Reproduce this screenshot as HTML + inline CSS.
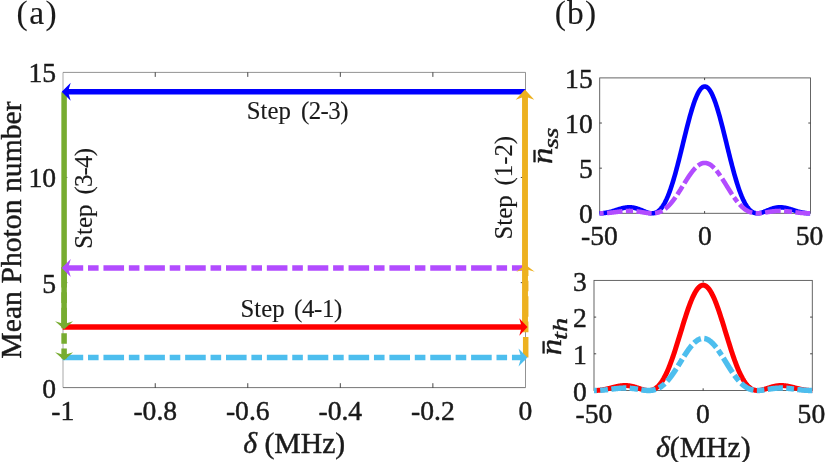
<!DOCTYPE html>
<html><head><meta charset="utf-8"><title>Figure</title>
<style>html,body{margin:0;padding:0;background:#fff}body{width:825px;height:462px;overflow:hidden}</style>
</head><body>
<svg width="825" height="462" viewBox="0 0 825 462" style="display:block">
<rect width="825" height="462" fill="#fff"/>
<path d="M63.00 72.40V387.60" stroke="#a8a8a8" stroke-width="1.0" fill="none"/>
<path d="M525.50 72.40V387.60" stroke="#777" stroke-width="0.8" fill="none"/>
<path d="M63.00 72.40H525.50" stroke="#777" stroke-width="0.8" fill="none"/>
<path d="M63.00 387.60H525.50" stroke="#666" stroke-width="0.9" fill="none"/>
<path d="M155.24 387.80v-4.6M155.24 72.30v4.6M247.78 387.80v-4.6M247.78 72.30v4.6M340.32 387.80v-4.6M340.32 72.30v4.6M432.86 387.80v-4.6M432.86 72.30v4.6M62.70 282.63h4.6M525.40 282.63h-4.6M62.70 177.47h4.6M525.40 177.47h-4.6" fill="none" stroke="#333" stroke-width="0.9"/>
<path d="M62.60 268.10H525.40" stroke="#b24cff" stroke-width="5.5" stroke-dasharray="20.6 4.8 10.6 4.85" fill="none"/>
<path d="M62.60 357.60H525.40" stroke="#4dbeee" stroke-width="5.5" stroke-dasharray="20.6 4.8 10.6 4.85" fill="none"/>
<path d="M64.10 266.90V358.60" stroke="#77ac30" stroke-width="5.5" stroke-dasharray="20.6 4.8 10.6 4.85" fill="none"/>
<path d="M525.70 357.60V268.10" stroke="#edb120" stroke-width="5.5" stroke-dasharray="20.6 4.8 10.6 4.85" fill="none"/>
<path d="M525.40 91.70H65.70" stroke="#0000ff" stroke-width="5.5" fill="none"/>
<path d="M62.70 327.00H523.40" stroke="#ff0000" stroke-width="5.5" fill="none"/>
<path d="M64.10 92.20V327.00" stroke="#77ac30" stroke-width="5.5" fill="none"/>
<path d="M525.00 329.50V95.70" stroke="#edb120" stroke-width="5.9" fill="none"/>
<polygon points="61.80,268.10 70.80,259.10 68.10,268.10 70.80,277.10" fill="#b24cff"/>
<polygon points="527.40,357.60 518.50,366.60 521.20,357.60 518.50,348.60" fill="#4dbeee"/>
<polygon points="64.10,360.20 55.10,352.20 64.10,355.00 73.10,352.20" fill="#77ac30"/>
<polygon points="525.50,264.70 534.70,271.70 525.50,268.90 516.30,271.70" fill="#edb120"/>
<polygon points="61.70,91.70 70.70,82.70 68.00,91.70 70.70,100.70" fill="#0000ff"/>
<polygon points="527.50,327.00 519.30,335.80 521.70,327.00 519.30,318.20" fill="#ff0000"/>
<polygon points="64.10,329.30 55.10,321.30 64.10,324.10 73.10,321.30" fill="#77ac30"/>
<polygon points="524.95,89.50 534.25,99.70 524.95,96.50 515.65,99.70" fill="#edb120"/>
<rect x="599.70" y="77.90" width="210.80" height="135.40" fill="none" stroke="#555" stroke-width="0.9"/>
<path d="M704.60 213.30v-2.2M704.60 77.90v2.2M599.70 168.17h2.2M810.50 168.17h-2.2M599.70 123.03h2.2M810.50 123.03h-2.2" fill="none" stroke="#333" stroke-width="0.9"/>
<path d="M599.40 213.30 L599.93 213.30 L600.45 213.29 L600.98 213.27 L601.51 213.25 L602.03 213.22 L602.56 213.18 L603.09 213.14 L603.61 213.08 L604.14 213.03 L604.67 212.96 L605.19 212.89 L605.72 212.81 L606.25 212.72 L606.77 212.63 L607.30 212.53 L607.83 212.42 L608.35 212.31 L608.88 212.19 L609.41 212.06 L609.94 211.93 L610.46 211.79 L610.99 211.65 L611.52 211.51 L612.04 211.36 L612.57 211.20 L613.10 211.04 L613.62 210.88 L614.15 210.72 L614.68 210.56 L615.20 210.39 L615.73 210.22 L616.26 210.05 L616.78 209.89 L617.31 209.72 L617.84 209.55 L618.36 209.39 L618.89 209.23 L619.42 209.07 L619.94 208.91 L620.47 208.76 L621.00 208.61 L621.52 208.47 L622.05 208.33 L622.58 208.21 L623.10 208.08 L623.63 207.97 L624.16 207.86 L624.68 207.76 L625.21 207.67 L625.74 207.59 L626.26 207.52 L626.79 207.46 L627.32 207.41 L627.84 207.37 L628.37 207.34 L628.90 207.32 L629.42 207.32 L629.95 207.32 L630.48 207.34 L631.01 207.37 L631.53 207.41 L632.06 207.47 L632.59 207.53 L633.11 207.61 L633.64 207.70 L634.17 207.80 L634.69 207.92 L635.22 208.04 L635.75 208.18 L636.27 208.32 L636.80 208.48 L637.33 208.64 L637.85 208.82 L638.38 209.00 L638.91 209.19 L639.43 209.38 L639.96 209.59 L640.49 209.79 L641.01 210.00 L641.54 210.22 L642.07 210.43 L642.59 210.65 L643.12 210.87 L643.65 211.08 L644.17 211.30 L644.70 211.51 L645.23 211.71 L645.75 211.91 L646.28 212.10 L646.81 212.29 L647.33 212.46 L647.86 212.62 L648.39 212.77 L648.91 212.90 L649.44 213.01 L649.97 213.11 L650.49 213.19 L651.02 213.25 L651.55 213.29 L652.08 213.30 L652.60 213.29 L653.13 213.25 L653.66 213.18 L654.18 213.08 L654.71 212.95 L655.24 212.79 L655.76 212.59 L656.29 212.36 L656.82 212.09 L657.34 211.79 L657.87 211.44 L658.40 211.05 L658.92 210.62 L659.45 210.15 L659.98 209.63 L660.50 209.07 L661.03 208.47 L661.56 207.81 L662.08 207.11 L662.61 206.36 L663.14 205.57 L663.66 204.72 L664.19 203.82 L664.72 202.87 L665.24 201.88 L665.77 200.83 L666.30 199.73 L666.82 198.58 L667.35 197.38 L667.88 196.14 L668.40 194.84 L668.93 193.49 L669.46 192.09 L669.98 190.65 L670.51 189.15 L671.04 187.62 L671.56 186.03 L672.09 184.40 L672.62 182.73 L673.15 181.01 L673.67 179.26 L674.20 177.46 L674.73 175.63 L675.25 173.76 L675.78 171.86 L676.31 169.92 L676.83 167.96 L677.36 165.97 L677.89 163.94 L678.41 161.90 L678.94 159.83 L679.47 157.75 L679.99 155.64 L680.52 153.53 L681.05 151.40 L681.57 149.26 L682.10 147.11 L682.63 144.96 L683.15 142.81 L683.68 140.66 L684.21 138.51 L684.73 136.37 L685.26 134.24 L685.79 132.12 L686.31 130.02 L686.84 127.94 L687.37 125.88 L687.89 123.84 L688.42 121.83 L688.95 119.85 L689.47 117.90 L690.00 115.99 L690.53 114.12 L691.05 112.29 L691.58 110.50 L692.11 108.76 L692.63 107.07 L693.16 105.43 L693.69 103.84 L694.22 102.31 L694.74 100.84 L695.27 99.43 L695.80 98.08 L696.32 96.80 L696.85 95.59 L697.38 94.45 L697.90 93.37 L698.43 92.37 L698.96 91.44 L699.48 90.59 L700.01 89.82 L700.54 89.12 L701.06 88.51 L701.59 87.97 L702.12 87.51 L702.64 87.14 L703.17 86.85 L703.70 86.64 L704.22 86.52 L704.75 86.48 L705.28 86.52 L705.80 86.64 L706.33 86.85 L706.86 87.14 L707.38 87.51 L707.91 87.97 L708.44 88.51 L708.96 89.12 L709.49 89.82 L710.02 90.59 L710.54 91.44 L711.07 92.37 L711.60 93.37 L712.12 94.45 L712.65 95.59 L713.18 96.80 L713.70 98.08 L714.23 99.43 L714.76 100.84 L715.29 102.31 L715.81 103.84 L716.34 105.43 L716.87 107.07 L717.39 108.76 L717.92 110.50 L718.45 112.29 L718.97 114.12 L719.50 115.99 L720.03 117.90 L720.55 119.85 L721.08 121.83 L721.61 123.84 L722.13 125.88 L722.66 127.94 L723.19 130.02 L723.71 132.12 L724.24 134.24 L724.77 136.37 L725.29 138.51 L725.82 140.66 L726.35 142.81 L726.87 144.96 L727.40 147.11 L727.93 149.26 L728.45 151.40 L728.98 153.53 L729.51 155.64 L730.03 157.75 L730.56 159.83 L731.09 161.90 L731.61 163.94 L732.14 165.97 L732.67 167.96 L733.19 169.92 L733.72 171.86 L734.25 173.76 L734.77 175.63 L735.30 177.46 L735.83 179.26 L736.36 181.01 L736.88 182.73 L737.41 184.40 L737.94 186.03 L738.46 187.62 L738.99 189.15 L739.52 190.65 L740.04 192.09 L740.57 193.49 L741.10 194.84 L741.62 196.14 L742.15 197.38 L742.68 198.58 L743.20 199.73 L743.73 200.83 L744.26 201.88 L744.78 202.87 L745.31 203.82 L745.84 204.72 L746.36 205.57 L746.89 206.36 L747.42 207.11 L747.94 207.81 L748.47 208.47 L749.00 209.07 L749.52 209.63 L750.05 210.15 L750.58 210.62 L751.10 211.05 L751.63 211.44 L752.16 211.79 L752.68 212.09 L753.21 212.36 L753.74 212.59 L754.26 212.79 L754.79 212.95 L755.32 213.08 L755.84 213.18 L756.37 213.25 L756.90 213.29 L757.43 213.30 L757.95 213.29 L758.48 213.25 L759.01 213.19 L759.53 213.11 L760.06 213.01 L760.59 212.90 L761.11 212.77 L761.64 212.62 L762.17 212.46 L762.69 212.29 L763.22 212.10 L763.75 211.91 L764.27 211.71 L764.80 211.51 L765.33 211.30 L765.85 211.08 L766.38 210.87 L766.91 210.65 L767.43 210.43 L767.96 210.22 L768.49 210.00 L769.01 209.79 L769.54 209.59 L770.07 209.38 L770.59 209.19 L771.12 209.00 L771.65 208.82 L772.17 208.64 L772.70 208.48 L773.23 208.32 L773.75 208.18 L774.28 208.04 L774.81 207.92 L775.33 207.80 L775.86 207.70 L776.39 207.61 L776.91 207.53 L777.44 207.47 L777.97 207.41 L778.50 207.37 L779.02 207.34 L779.55 207.32 L780.08 207.32 L780.60 207.32 L781.13 207.34 L781.66 207.37 L782.18 207.41 L782.71 207.46 L783.24 207.52 L783.76 207.59 L784.29 207.67 L784.82 207.76 L785.34 207.86 L785.87 207.97 L786.40 208.08 L786.92 208.21 L787.45 208.33 L787.98 208.47 L788.50 208.61 L789.03 208.76 L789.56 208.91 L790.08 209.07 L790.61 209.23 L791.14 209.39 L791.66 209.55 L792.19 209.72 L792.72 209.89 L793.24 210.05 L793.77 210.22 L794.30 210.39 L794.82 210.56 L795.35 210.72 L795.88 210.88 L796.40 211.04 L796.93 211.20 L797.46 211.36 L797.98 211.51 L798.51 211.65 L799.04 211.79 L799.57 211.93 L800.09 212.06 L800.62 212.19 L801.15 212.31 L801.67 212.42 L802.20 212.53 L802.73 212.63 L803.25 212.72 L803.78 212.81 L804.31 212.89 L804.83 212.96 L805.36 213.03 L805.89 213.08 L806.41 213.14 L806.94 213.18 L807.47 213.22 L807.99 213.25 L808.52 213.27 L809.05 213.29 L809.57 213.30 L810.10 213.30" stroke="#0000ff" stroke-width="4.6" fill="none" stroke-linejoin="round"/>
<path d="M599.70 213.30 L600.10 213.30 L600.49 213.29 L600.89 213.29 L601.28 213.28 L601.68 213.28 L602.07 213.27 L602.47 213.26 L602.86 213.24 L603.26 213.23 L603.65 213.21 M607.05 213.01 L607.44 212.98 L607.84 212.95 L608.24 212.92 L608.63 212.88 L609.03 212.84 L609.42 212.81 L609.82 212.77 L610.21 212.73 L610.61 212.69 L611.01 212.64 L611.40 212.60 L611.80 212.56 L612.19 212.51 L612.59 212.46 L612.98 212.42 L613.38 212.37 L613.77 212.32 L614.16 212.27 L614.56 212.22 L614.95 212.18 L615.35 212.13 L615.74 212.08 L616.14 212.03 L616.53 211.98 L616.93 211.93 L617.32 211.88 L617.72 211.83 L618.11 211.78 L618.50 211.73 L618.90 211.68 L619.29 211.63 L619.69 211.59 L620.08 211.54 L620.48 211.50 L620.87 211.45 L621.27 211.41 L621.67 211.37 L622.06 211.33 L622.46 211.29 M625.85 211.03 L626.25 211.00 L626.65 210.99 L627.06 210.97 L627.46 210.95 L627.86 210.94 L628.27 210.93 L628.67 210.93 L629.07 210.92 L629.48 210.92 L629.88 210.92 L630.28 210.93 L630.69 210.94 L631.09 210.95 L631.49 210.96 L631.90 210.98 L632.30 210.99 L632.70 211.02 L633.11 211.04 M636.49 211.35 L636.89 211.40 L637.29 211.45 L637.69 211.50 L638.09 211.55 L638.49 211.61 L638.89 211.66 L639.28 211.72 L639.68 211.78 L640.08 211.84 L640.48 211.91 L640.87 211.97 L641.27 212.03 L641.67 212.10 L642.07 212.16 L642.46 212.23 L642.86 212.29 L643.26 212.36 L643.66 212.42 L644.05 212.49 L644.45 212.55 L644.85 212.61 L645.25 212.67 L645.64 212.73 L646.04 212.79 L646.44 212.85 L646.84 212.90 L647.24 212.95 L647.64 213.00 L648.04 213.05 L648.44 213.09 L648.84 213.13 L649.24 213.17 L649.64 213.20 L650.04 213.23 L650.44 213.25 L650.85 213.27 L651.25 213.29 L651.65 213.30 M655.04 213.12 L655.44 213.07 L655.84 213.01 L656.24 212.94 L656.64 212.86 L657.04 212.77 L657.43 212.68 L657.82 212.57 L658.21 212.46 L658.60 212.34 L658.98 212.22 L659.36 212.08 L659.74 211.94 L660.12 211.79 L660.49 211.63 L660.86 211.46 L661.22 211.29 L661.59 211.11 L661.95 210.92 L662.30 210.72 M665.13 208.85 L665.45 208.60 L665.76 208.35 L666.07 208.10 L666.38 207.84 L666.68 207.58 L666.98 207.32 L667.28 207.05 L667.57 206.78 L667.86 206.50 L668.15 206.22 L668.43 205.94 L668.71 205.66 L668.99 205.37 L669.27 205.08 L669.54 204.79 L669.81 204.49 L670.08 204.20 L670.35 203.90 L670.61 203.60 L670.87 203.29 L671.13 202.99 L671.39 202.68 L671.64 202.38 L671.90 202.07 L672.15 201.75 L672.40 201.44 L672.64 201.13 L672.89 200.81 L673.13 200.49 L673.37 200.18 L673.61 199.86 L673.85 199.54 L674.09 199.21 L674.33 198.89 L674.56 198.57 L674.80 198.24 L675.03 197.92 L675.26 197.59 L675.49 197.26 M677.39 194.45 L677.62 194.11 L677.84 193.77 L678.06 193.44 L678.28 193.10 L678.49 192.76 L678.71 192.42 L678.93 192.08 L679.15 191.74 L679.36 191.40 L679.58 191.06 L679.79 190.72 L680.01 190.38 L680.22 190.04 L680.44 189.70 L680.65 189.35 L680.86 189.01 L681.07 188.67 L681.29 188.33 L681.50 187.98 L681.71 187.64 L681.92 187.30 L682.13 186.96 L682.35 186.61 L682.56 186.27 M684.34 183.38 L684.55 183.04 L684.77 182.70 L684.98 182.36 L685.19 182.02 L685.40 181.68 L685.61 181.34 L685.82 181.00 L686.04 180.66 L686.25 180.32 L686.47 179.99 L686.68 179.65 L686.90 179.31 L687.11 178.98 L687.33 178.64 L687.55 178.30 L687.76 177.97 L687.98 177.63 L688.20 177.30 L688.42 176.97 L688.65 176.63 L688.87 176.30 L689.09 175.97 L689.32 175.64 L689.55 175.31 L689.77 174.98 L690.00 174.65 L690.23 174.33 L690.46 174.00 L690.70 173.68 L690.93 173.35 L691.17 173.03 L691.41 172.71 L691.65 172.39 L691.89 172.07 L692.13 171.75 L692.38 171.44 L692.62 171.12 L692.87 170.81 L693.13 170.50 L693.38 170.19 L693.64 169.89 L693.90 169.58 L694.16 169.28 L694.43 168.98 L694.70 168.69 L694.97 168.39 L695.24 168.10 L695.52 167.82 M698.06 165.55 L698.38 165.31 L698.70 165.08 L699.03 164.85 L699.37 164.64 L699.71 164.43 L700.06 164.23 L700.42 164.04 L700.78 163.87 L701.14 163.70 L701.51 163.55 L701.89 163.42 L702.27 163.30 L702.66 163.19 L703.05 163.10 L703.45 163.03 L703.84 162.98 L704.24 162.95 L704.64 162.93 L705.04 162.94 L705.44 162.96 L705.84 163.00 L706.24 163.06 L706.63 163.14 L707.02 163.24 L707.40 163.35 L707.78 163.48 L708.16 163.62 L708.53 163.78 L708.89 163.95 L709.25 164.13 L709.60 164.32 L709.95 164.52 L710.29 164.74 L710.62 164.96 L710.95 165.19 L711.27 165.42 L711.59 165.67 L711.91 165.92 L712.21 166.17 L712.52 166.43 L712.82 166.70 L713.11 166.97 L713.40 167.25 L713.69 167.53 L713.97 167.81 L714.25 168.10 M716.50 170.65 L716.75 170.96 L717.00 171.28 L717.25 171.59 L717.49 171.91 L717.73 172.23 L717.98 172.55 L718.22 172.87 L718.45 173.19 L718.69 173.52 L718.92 173.84 L719.16 174.17 L719.39 174.50 L719.62 174.83 L719.85 175.16 L720.08 175.49 L720.30 175.82 M722.18 178.65 L722.40 178.99 L722.61 179.32 L722.83 179.66 L723.04 180.00 L723.25 180.33 L723.47 180.67 L723.68 181.01 L723.89 181.35 L724.10 181.68 L724.31 182.02 L724.53 182.36 L724.74 182.70 L724.95 183.04 L725.16 183.38 L725.37 183.72 L725.58 184.05 L725.79 184.39 L726.00 184.73 L726.20 185.07 L726.41 185.41 L726.62 185.75 L726.83 186.09 L727.04 186.43 L727.25 186.77 L727.46 187.11 L727.67 187.45 L727.88 187.79 L728.09 188.13 L728.30 188.47 L728.51 188.81 L728.72 189.14 L728.93 189.48 L729.14 189.82 L729.35 190.16 L729.57 190.50 L729.78 190.83 L729.99 191.17 L730.21 191.51 L730.42 191.84 L730.63 192.18 L730.85 192.52 L731.07 192.85 L731.28 193.19 L731.50 193.52 L731.72 193.85 L731.94 194.19 L732.15 194.52 M734.06 197.33 L734.29 197.66 L734.53 197.99 L734.76 198.32 L734.99 198.64 L735.23 198.97 L735.46 199.29 L735.70 199.61 L735.94 199.93 L736.18 200.25 L736.43 200.57 L736.67 200.89 L736.92 201.21 L737.17 201.52 L737.42 201.83 M739.62 204.42 L739.89 204.72 L740.17 205.01 L740.45 205.31 L740.73 205.60 L741.01 205.88 L741.30 206.17 L741.59 206.45 L741.88 206.73 L742.17 207.00 L742.47 207.27 L742.77 207.54 L743.08 207.81 L743.39 208.07 L743.70 208.32 L744.01 208.57 L744.33 208.82 L744.65 209.06 L744.98 209.30 L745.31 209.54 L745.64 209.76 L745.98 209.98 L746.32 210.20 L746.66 210.41 L747.01 210.62 L747.36 210.81 L747.72 211.00 L748.08 211.19 L748.44 211.37 L748.81 211.54 L749.17 211.70 L749.55 211.85 L749.92 212.00 L750.30 212.14 L750.68 212.27 L751.07 212.40 L751.45 212.51 L751.84 212.62 L752.23 212.72 M755.59 213.23 L756.00 213.26 L756.41 213.28 L756.83 213.29 L757.24 213.30 L757.65 213.30 L758.06 213.29 L758.48 213.28 L758.89 213.26 L759.30 213.24 L759.71 213.21 L760.12 213.18 L760.53 213.15 L760.94 213.11 L761.35 213.06 L761.76 213.01 M765.13 212.54 L765.53 212.47 L765.92 212.41 L766.32 212.34 L766.72 212.28 L767.11 212.21 L767.51 212.15 L767.91 212.08 L768.30 212.02 L768.70 211.96 L769.10 211.89 L769.50 211.83 L769.89 211.77 L770.29 211.71 L770.69 211.65 L771.09 211.60 L771.48 211.54 L771.88 211.49 L772.28 211.44 L772.68 211.39 L773.08 211.34 L773.48 211.30 L773.88 211.25 L774.28 211.21 L774.68 211.17 L775.08 211.14 L775.48 211.11 L775.88 211.08 L776.28 211.05 L776.68 211.02 L777.08 211.00 L777.49 210.98 L777.89 210.96 L778.29 210.95 L778.69 210.94 L779.09 210.93 L779.49 210.93 L779.90 210.92 L780.30 210.92 L780.70 210.93 M784.10 211.05 L784.49 211.08 L784.89 211.10 L785.28 211.13 L785.68 211.17 L786.07 211.20 L786.46 211.23 L786.86 211.27 L787.25 211.31 L787.64 211.35 L788.04 211.39 L788.43 211.43 L788.82 211.47 L789.22 211.52 L789.61 211.56 L790.00 211.61 L790.39 211.66 L790.79 211.70 L791.18 211.75 L791.57 211.80 L791.96 211.85 M795.34 212.27 L795.73 212.32 L796.13 212.37 L796.53 212.42 L796.93 212.47 L797.32 212.51 L797.72 212.56 L798.12 212.60 L798.52 212.65 L798.92 212.69 L799.31 212.73 L799.71 212.77 L800.11 212.81 L800.51 212.85 L800.91 212.88 L801.31 212.92 L801.70 212.95 L802.10 212.99 L802.50 213.02 L802.90 213.05 L803.30 213.07 L803.70 213.10 L804.10 213.12 L804.50 213.15 L804.90 213.17 L805.30 213.19 L805.70 213.21 L806.10 213.22 L806.50 213.24 L806.90 213.25 L807.30 213.26 L807.70 213.27 L808.10 213.28 L808.50 213.29 L808.90 213.29 L809.30 213.30 L809.70 213.30 L810.10 213.30" stroke="#b24cff" stroke-width="4.6" fill="none" stroke-linejoin="round"/>
<rect x="594.00" y="280.40" width="218.30" height="110.10" fill="none" stroke="#555" stroke-width="0.9"/>
<path d="M703.15 390.50v-2.2M703.15 280.40v2.2M594.00 353.80h2.2M812.30 353.80h-2.2M594.00 317.10h2.2M812.30 317.10h-2.2" fill="none" stroke="#333" stroke-width="0.9"/>
<path d="M594.00 390.50 L594.55 390.50 L595.09 390.49 L595.64 390.48 L596.18 390.46 L596.73 390.43 L597.27 390.40 L597.82 390.36 L598.37 390.32 L598.91 390.27 L599.46 390.22 L600.00 390.16 L600.55 390.09 L601.09 390.02 L601.64 389.94 L602.19 389.86 L602.73 389.77 L603.28 389.67 L603.82 389.57 L604.37 389.47 L604.91 389.36 L605.46 389.25 L606.01 389.13 L606.55 389.01 L607.10 388.89 L607.64 388.76 L608.19 388.63 L608.74 388.49 L609.28 388.36 L609.83 388.22 L610.37 388.08 L610.92 387.94 L611.46 387.80 L612.01 387.66 L612.56 387.53 L613.10 387.39 L613.65 387.25 L614.19 387.12 L614.74 386.98 L615.28 386.86 L615.83 386.73 L616.38 386.61 L616.92 386.49 L617.47 386.38 L618.01 386.27 L618.56 386.17 L619.10 386.07 L619.65 385.98 L620.20 385.90 L620.74 385.82 L621.29 385.76 L621.83 385.70 L622.38 385.65 L622.92 385.61 L623.47 385.57 L624.02 385.55 L624.56 385.53 L625.11 385.53 L625.65 385.53 L626.20 385.55 L626.75 385.58 L627.29 385.61 L627.84 385.66 L628.38 385.71 L628.93 385.78 L629.47 385.85 L630.02 385.94 L630.57 386.03 L631.11 386.13 L631.66 386.25 L632.20 386.37 L632.75 386.50 L633.29 386.63 L633.84 386.78 L634.39 386.93 L634.93 387.08 L635.48 387.25 L636.02 387.42 L636.57 387.59 L637.11 387.76 L637.66 387.94 L638.21 388.12 L638.75 388.30 L639.30 388.48 L639.84 388.66 L640.39 388.84 L640.93 389.01 L641.48 389.18 L642.03 389.35 L642.57 389.51 L643.12 389.66 L643.66 389.80 L644.21 389.93 L644.75 390.06 L645.30 390.17 L645.85 390.26 L646.39 390.35 L646.94 390.41 L647.48 390.46 L648.03 390.49 L648.58 390.50 L649.12 390.49 L649.67 390.46 L650.21 390.40 L650.76 390.32 L651.30 390.21 L651.85 390.08 L652.40 389.91 L652.94 389.72 L653.49 389.50 L654.03 389.24 L654.58 388.95 L655.12 388.63 L655.67 388.28 L656.22 387.88 L656.76 387.46 L657.31 386.99 L657.85 386.49 L658.40 385.94 L658.94 385.36 L659.49 384.74 L660.04 384.08 L660.58 383.37 L661.13 382.63 L661.67 381.84 L662.22 381.01 L662.76 380.14 L663.31 379.23 L663.86 378.28 L664.40 377.28 L664.95 376.24 L665.49 375.17 L666.04 374.05 L666.58 372.89 L667.13 371.69 L667.68 370.45 L668.22 369.17 L668.77 367.85 L669.31 366.50 L669.86 365.11 L670.40 363.69 L670.95 362.23 L671.50 360.74 L672.04 359.22 L672.59 357.66 L673.13 356.08 L673.68 354.48 L674.23 352.84 L674.77 351.19 L675.32 349.51 L675.86 347.81 L676.41 346.10 L676.95 344.36 L677.50 342.62 L678.05 340.86 L678.59 339.09 L679.14 337.31 L679.68 335.53 L680.23 333.74 L680.77 331.96 L681.32 330.17 L681.87 328.39 L682.41 326.61 L682.96 324.84 L683.50 323.08 L684.05 321.34 L684.59 319.61 L685.14 317.90 L685.69 316.20 L686.23 314.53 L686.78 312.89 L687.32 311.27 L687.87 309.68 L688.41 308.13 L688.96 306.61 L689.51 305.12 L690.05 303.68 L690.60 302.27 L691.14 300.91 L691.69 299.59 L692.24 298.32 L692.78 297.10 L693.33 295.93 L693.87 294.81 L694.42 293.75 L694.96 292.74 L695.51 291.79 L696.06 290.90 L696.60 290.07 L697.15 289.30 L697.69 288.59 L698.24 287.95 L698.78 287.37 L699.33 286.86 L699.88 286.41 L700.42 286.03 L700.97 285.72 L701.51 285.48 L702.06 285.31 L702.60 285.21 L703.15 285.17 L703.70 285.21 L704.24 285.31 L704.79 285.48 L705.33 285.72 L705.88 286.03 L706.42 286.41 L706.97 286.86 L707.52 287.37 L708.06 287.95 L708.61 288.59 L709.15 289.30 L709.70 290.07 L710.24 290.90 L710.79 291.79 L711.34 292.74 L711.88 293.75 L712.43 294.81 L712.97 295.93 L713.52 297.10 L714.06 298.32 L714.61 299.59 L715.16 300.91 L715.70 302.27 L716.25 303.68 L716.79 305.12 L717.34 306.61 L717.89 308.13 L718.43 309.68 L718.98 311.27 L719.52 312.89 L720.07 314.53 L720.61 316.20 L721.16 317.90 L721.71 319.61 L722.25 321.34 L722.80 323.08 L723.34 324.84 L723.89 326.61 L724.43 328.39 L724.98 330.17 L725.53 331.96 L726.07 333.74 L726.62 335.53 L727.16 337.31 L727.71 339.09 L728.25 340.86 L728.80 342.62 L729.35 344.36 L729.89 346.10 L730.44 347.81 L730.98 349.51 L731.53 351.19 L732.07 352.84 L732.62 354.48 L733.17 356.08 L733.71 357.66 L734.26 359.22 L734.80 360.74 L735.35 362.23 L735.89 363.69 L736.44 365.11 L736.99 366.50 L737.53 367.85 L738.08 369.17 L738.62 370.45 L739.17 371.69 L739.72 372.89 L740.26 374.05 L740.81 375.17 L741.35 376.24 L741.90 377.28 L742.44 378.28 L742.99 379.23 L743.54 380.14 L744.08 381.01 L744.63 381.84 L745.17 382.63 L745.72 383.37 L746.26 384.08 L746.81 384.74 L747.36 385.36 L747.90 385.94 L748.45 386.49 L748.99 386.99 L749.54 387.46 L750.08 387.88 L750.63 388.28 L751.18 388.63 L751.72 388.95 L752.27 389.24 L752.81 389.50 L753.36 389.72 L753.90 389.91 L754.45 390.08 L755.00 390.21 L755.54 390.32 L756.09 390.40 L756.63 390.46 L757.18 390.49 L757.72 390.50 L758.27 390.49 L758.82 390.46 L759.36 390.41 L759.91 390.35 L760.45 390.26 L761.00 390.17 L761.55 390.06 L762.09 389.93 L762.64 389.80 L763.18 389.66 L763.73 389.51 L764.27 389.35 L764.82 389.18 L765.37 389.01 L765.91 388.84 L766.46 388.66 L767.00 388.48 L767.55 388.30 L768.09 388.12 L768.64 387.94 L769.19 387.76 L769.73 387.59 L770.28 387.42 L770.82 387.25 L771.37 387.08 L771.91 386.93 L772.46 386.78 L773.01 386.63 L773.55 386.50 L774.10 386.37 L774.64 386.25 L775.19 386.13 L775.73 386.03 L776.28 385.94 L776.83 385.85 L777.37 385.78 L777.92 385.71 L778.46 385.66 L779.01 385.61 L779.55 385.58 L780.10 385.55 L780.65 385.53 L781.19 385.53 L781.74 385.53 L782.28 385.55 L782.83 385.57 L783.38 385.61 L783.92 385.65 L784.47 385.70 L785.01 385.76 L785.56 385.82 L786.10 385.90 L786.65 385.98 L787.20 386.07 L787.74 386.17 L788.29 386.27 L788.83 386.38 L789.38 386.49 L789.92 386.61 L790.47 386.73 L791.02 386.86 L791.56 386.98 L792.11 387.12 L792.65 387.25 L793.20 387.39 L793.74 387.53 L794.29 387.66 L794.84 387.80 L795.38 387.94 L795.93 388.08 L796.47 388.22 L797.02 388.36 L797.56 388.49 L798.11 388.63 L798.66 388.76 L799.20 388.89 L799.75 389.01 L800.29 389.13 L800.84 389.25 L801.38 389.36 L801.93 389.47 L802.48 389.57 L803.02 389.67 L803.57 389.77 L804.11 389.86 L804.66 389.94 L805.21 390.02 L805.75 390.09 L806.30 390.16 L806.84 390.22 L807.39 390.27 L807.93 390.32 L808.48 390.36 L809.03 390.40 L809.57 390.43 L810.12 390.46 L810.66 390.48 L811.21 390.49 L811.75 390.50 L812.30 390.50" stroke="#ff0000" stroke-width="5" fill="none" stroke-linejoin="round"/>
<path d="M594.00 390.50 L594.40 390.50 L594.80 390.50 L595.20 390.49 L595.60 390.49 L596.00 390.48 L596.40 390.47 L596.80 390.46 M600.20 390.32 L600.61 390.29 L601.02 390.27 L601.43 390.24 L601.84 390.21 L602.25 390.18 L602.65 390.14 L603.06 390.11 L603.47 390.07 L603.88 390.04 L604.29 390.00 L604.70 389.96 L605.11 389.92 L605.52 389.88 L605.92 389.83 L606.33 389.79 L606.74 389.74 L607.15 389.70 L607.55 389.65 L607.96 389.60 M611.34 389.18 L611.73 389.13 L612.12 389.08 L612.51 389.03 L612.91 388.98 L613.30 388.94 L613.69 388.89 L614.08 388.84 L614.48 388.79 L614.87 388.75 L615.26 388.70 L615.65 388.65 L616.05 388.61 L616.44 388.57 L616.83 388.53 L617.22 388.48 L617.62 388.44 L618.01 388.41 L618.41 388.37 L618.80 388.33 L619.19 388.30 L619.59 388.27 L619.98 388.24 L620.38 388.21 L620.77 388.18 L621.16 388.16 L621.56 388.14 L621.95 388.12 L622.35 388.10 L622.74 388.08 L623.14 388.07 L623.53 388.06 L623.93 388.05 L624.32 388.05 L624.72 388.04 L625.12 388.04 L625.51 388.04 L625.91 388.05 L626.30 388.05 M629.70 388.22 L630.09 388.25 L630.49 388.28 L630.88 388.32 L631.28 388.36 L631.68 388.40 L632.07 388.44 L632.47 388.49 L632.86 388.53 L633.25 388.58 L633.65 388.63 L634.04 388.69 L634.44 388.74 L634.83 388.80 L635.22 388.85 L635.62 388.91 L636.01 388.97 L636.40 389.03 L636.79 389.09 L637.19 389.16 L637.58 389.22 L637.97 389.28 M641.33 389.82 L641.72 389.88 L642.11 389.94 L642.50 390.00 L642.89 390.05 L643.28 390.11 L643.67 390.16 L644.07 390.20 L644.46 390.25 L644.85 390.29 L645.24 390.33 L645.64 390.37 L646.03 390.40 L646.42 390.43 L646.82 390.45 L647.21 390.47 L647.60 390.48 L648.00 390.49 L648.39 390.50 L648.79 390.50 L649.18 390.49 L649.58 390.48 L649.97 390.46 L650.37 390.44 L650.76 390.41 L651.15 390.37 L651.54 390.33 L651.94 390.28 L652.33 390.22 L652.71 390.16 L653.10 390.08 L653.49 390.00 L653.87 389.92 L654.26 389.82 L654.64 389.72 L655.02 389.61 L655.39 389.49 L655.77 389.37 M658.88 387.99 L659.23 387.80 L659.59 387.59 L659.94 387.38 L660.29 387.16 L660.64 386.94 L660.98 386.71 L661.31 386.47 L661.65 386.23 L661.98 385.99 L662.30 385.74 L662.63 385.49 L662.95 385.23 L663.26 384.97 L663.57 384.70 L663.88 384.43 L664.19 384.15 L664.49 383.88 L664.79 383.60 M667.16 381.16 L667.43 380.86 L667.69 380.57 L667.95 380.27 L668.20 379.97 L668.46 379.66 L668.71 379.36 L668.97 379.05 L669.22 378.75 L669.46 378.44 L669.71 378.13 L669.95 377.82 L670.20 377.50 L670.44 377.19 L670.68 376.87 L670.92 376.56 L671.15 376.24 L671.39 375.92 L671.62 375.60 L671.86 375.28 L672.09 374.96 L672.32 374.64 L672.55 374.31 L672.77 373.99 L673.00 373.67 L673.22 373.34 L673.45 373.01 L673.67 372.69 L673.90 372.36 L674.12 372.03 L674.34 371.70 L674.56 371.37 L674.78 371.04 L674.99 370.71 L675.21 370.38 L675.43 370.05 L675.64 369.72 L675.86 369.38 L676.07 369.05 L676.29 368.72 M678.10 365.84 L678.31 365.51 L678.52 365.18 L678.73 364.84 L678.94 364.51 L679.14 364.17 L679.35 363.84 L679.56 363.50 L679.77 363.17 L679.97 362.83 L680.18 362.50 L680.39 362.16 L680.59 361.83 L680.80 361.49 L681.01 361.16 L681.21 360.82 L681.42 360.49 L681.63 360.15 L681.84 359.82 L682.04 359.48 L682.25 359.15 M684.06 356.27 L684.27 355.93 L684.49 355.58 L684.71 355.24 L684.93 354.90 L685.15 354.56 L685.37 354.22 L685.59 353.88 L685.82 353.54 L686.04 353.20 L686.26 352.86 L686.49 352.53 L686.72 352.19 L686.94 351.85 L687.17 351.52 L687.40 351.19 L687.63 350.85 L687.87 350.52 L688.10 350.19 L688.33 349.86 L688.57 349.53 L688.81 349.20 L689.05 348.87 L689.29 348.55 L689.53 348.22 L689.78 347.90 L690.03 347.58 L690.27 347.26 L690.53 346.94 L690.78 346.62 L691.03 346.31 L691.29 345.99 L691.55 345.68 L691.82 345.37 M694.14 342.89 L694.43 342.62 L694.73 342.34 L695.03 342.08 L695.33 341.81 L695.64 341.56 L695.95 341.30 L696.27 341.06 L696.59 340.82 L696.92 340.59 L697.25 340.36 L697.59 340.14 L697.93 339.94 L698.28 339.74 L698.63 339.55 L698.99 339.37 L699.36 339.21 L699.73 339.06 L700.11 338.92 L700.49 338.79 L700.88 338.68 M704.25 338.46 L704.65 338.51 L705.04 338.59 L705.44 338.69 L705.83 338.80 L706.21 338.92 L706.59 339.06 L706.97 339.22 L707.34 339.39 L707.70 339.57 L708.06 339.76 L708.41 339.96 L708.75 340.17 L709.09 340.39 L709.43 340.62 L709.76 340.85 L710.08 341.09 L710.40 341.34 L710.72 341.60 L711.03 341.86 L711.33 342.13 L711.63 342.40 L711.93 342.67 L712.22 342.95 L712.51 343.24 L712.79 343.52 L713.08 343.82 L713.35 344.11 L713.63 344.41 L713.90 344.71 L714.17 345.01 L714.44 345.32 L714.70 345.62 L714.96 345.93 L715.22 346.25 L715.47 346.56 L715.73 346.88 L715.98 347.19 L716.23 347.51 M718.24 350.25 L718.47 350.57 L718.70 350.90 L718.92 351.22 L719.14 351.54 L719.37 351.87 L719.59 352.20 L719.81 352.52 L720.03 352.85 L720.24 353.18 L720.46 353.51 L720.68 353.84 L720.89 354.17 L721.11 354.50 L721.32 354.83 L721.54 355.16 M723.35 358.03 L723.57 358.37 L723.78 358.71 L723.99 359.04 L724.20 359.38 L724.40 359.72 L724.61 360.06 L724.82 360.40 L725.03 360.73 L725.24 361.07 L725.45 361.41 L725.66 361.75 L725.87 362.09 L726.08 362.43 L726.28 362.76 L726.49 363.10 L726.70 363.44 L726.91 363.78 L727.12 364.12 L727.33 364.45 L727.54 364.79 L727.75 365.13 L727.96 365.47 L728.17 365.80 L728.38 366.14 L728.59 366.48 L728.80 366.81 L729.02 367.15 L729.23 367.49 L729.44 367.82 L729.65 368.16 L729.87 368.49 L730.08 368.83 L730.30 369.16 L730.51 369.50 L730.73 369.83 L730.95 370.16 L731.16 370.49 L731.38 370.83 L731.60 371.16 L731.82 371.49 L732.04 371.82 L732.26 372.15 L732.49 372.48 M734.43 375.27 L734.67 375.59 L734.90 375.90 L735.13 376.22 L735.37 376.54 L735.61 376.86 L735.85 377.17 L736.09 377.48 L736.33 377.80 L736.57 378.11 L736.82 378.42 L737.07 378.72 L737.31 379.03 L737.57 379.34 L737.82 379.64 L738.07 379.94 L738.33 380.24 L738.59 380.54 L738.85 380.84 M741.20 383.30 L741.48 383.57 L741.77 383.84 L742.06 384.11 L742.36 384.37 L742.65 384.64 L742.95 384.89 L743.26 385.15 L743.56 385.40 L743.88 385.65 L744.19 385.89 L744.51 386.13 L744.83 386.36 L745.15 386.59 L745.48 386.81 L745.81 387.03 L746.14 387.24 L746.48 387.45 L746.82 387.65 L747.16 387.85 L747.51 388.04 L747.86 388.22 L748.22 388.40 L748.57 388.57 L748.93 388.74 L749.30 388.89 L749.66 389.04 L750.03 389.19 L750.41 389.32 L750.78 389.45 L751.16 389.57 L751.54 389.68 L751.92 389.79 L752.30 389.89 L752.69 389.98 L753.08 390.06 L753.47 390.13 M756.85 390.49 L757.24 390.50 L757.64 390.50 L758.04 390.50 L758.44 390.49 L758.83 390.48 L759.23 390.46 L759.63 390.44 L760.03 390.42 L760.42 390.39 L760.82 390.35 L761.21 390.31 L761.61 390.27 L762.00 390.23 L762.40 390.18 L762.79 390.13 L763.19 390.08 L763.58 390.03 L763.98 389.97 L764.37 389.92 M767.73 389.38 L768.12 389.32 L768.52 389.25 L768.92 389.19 L769.31 389.12 L769.71 389.06 L770.11 389.00 L770.50 388.94 L770.90 388.88 L771.30 388.82 L771.70 388.76 L772.09 388.71 L772.49 388.65 L772.89 388.60 L773.29 388.55 L773.69 388.50 L774.08 388.46 L774.48 388.41 L774.88 388.37 L775.28 388.33 L775.68 388.29 L776.08 388.26 L776.48 388.23 L776.88 388.20 L777.28 388.17 L777.68 388.14 L778.08 388.12 L778.49 388.10 L778.89 388.09 L779.29 388.07 L779.69 388.06 L780.09 388.05 L780.49 388.04 L780.89 388.04 L781.30 388.04 L781.70 388.04 L782.10 388.05 L782.50 388.05 L782.90 388.06 M786.30 388.24 L786.70 388.27 L787.11 388.30 L787.51 388.34 L787.91 388.37 L788.32 388.41 L788.72 388.45 L789.13 388.49 L789.53 388.53 L789.93 388.57 L790.34 388.62 L790.74 388.66 L791.14 388.71 L791.55 388.76 L791.95 388.81 L792.35 388.86 L792.76 388.91 L793.16 388.96 L793.56 389.01 L793.96 389.06 M797.34 389.48 L797.73 389.53 L798.12 389.57 L798.51 389.62 L798.91 389.67 L799.30 389.71 L799.69 389.76 L800.08 389.80 L800.48 389.84 L800.87 389.88 L801.26 389.92 L801.65 389.96 L802.05 390.00 L802.44 390.04 L802.83 390.07 L803.23 390.11 L803.62 390.14 L804.01 390.17 L804.41 390.20 L804.80 390.23 L805.20 390.26 L805.59 390.29 L805.98 390.31 L806.38 390.34 L806.77 390.36 L807.17 390.38 L807.56 390.40 L807.96 390.41 L808.35 390.43 L808.75 390.44 L809.14 390.45 L809.54 390.47 L809.93 390.47 L810.33 390.48 L810.72 390.49 L811.12 390.49 L811.51 390.50 L811.91 390.50 L812.30 390.50" stroke="#4dbeee" stroke-width="5.4" fill="none" stroke-linejoin="round"/>
<g font-family='"Liberation Serif", "DejaVu Serif", serif' fill="#1a1a1a" stroke="#1a1a1a" stroke-width="0.45" stroke-linejoin="round">
<text x="16.60" y="23.50" font-size="33.5" text-anchor="start" letter-spacing="1.4" stroke-width="0.1" style="">(a)</text>
<text x="554.70" y="23.70" font-size="33.5" text-anchor="start" letter-spacing="1.2" stroke-width="0.1" style="">(b)</text>
<text x="56.00" y="397.80" font-size="27.6" text-anchor="end"  style="">0</text>
<text x="56.00" y="292.63" font-size="27.6" text-anchor="end"  style="">5</text>
<text x="56.00" y="187.47" font-size="27.6" text-anchor="end"  style="">10</text>
<text x="56.00" y="82.30" font-size="27.6" text-anchor="end"  style="">15</text>
<text x="62.70" y="420.30" font-size="27.6" text-anchor="middle"  style="">-1</text>
<text x="155.24" y="420.30" font-size="27.6" text-anchor="middle"  style="">-0.8</text>
<text x="247.78" y="420.30" font-size="27.6" text-anchor="middle"  style="">-0.6</text>
<text x="340.32" y="420.30" font-size="27.6" text-anchor="middle"  style="">-0.4</text>
<text x="432.86" y="420.30" font-size="27.6" text-anchor="middle"  style="">-0.2</text>
<text x="525.40" y="420.30" font-size="27.6" text-anchor="middle"  style="">0</text>
<text x="20.80" y="230.00" font-size="29.7" text-anchor="middle" transform="rotate(-90 20.80 230.00)"  style="">Mean Photon number</text>
<text x="294.2" y="453.2" font-size="29.7" text-anchor="middle"><tspan font-style="italic">δ</tspan> (MHz)</text>
<text x="592.70" y="222.90" font-size="27.6" text-anchor="end"  style="">0</text>
<text x="592.70" y="177.77" font-size="27.6" text-anchor="end"  style="">5</text>
<text x="592.70" y="132.63" font-size="27.6" text-anchor="end"  style="">10</text>
<text x="592.70" y="87.50" font-size="27.6" text-anchor="end"  style="">15</text>
<text x="599.50" y="245.00" font-size="27.6" text-anchor="middle"  style="">-50</text>
<text x="704.80" y="245.00" font-size="27.6" text-anchor="middle"  style="">0</text>
<text x="809.60" y="245.00" font-size="27.6" text-anchor="middle"  style="">50</text>
<text x="586.90" y="400.60" font-size="27.6" text-anchor="end"  style="">0</text>
<text x="586.90" y="363.90" font-size="27.6" text-anchor="end"  style="">1</text>
<text x="586.90" y="327.20" font-size="27.6" text-anchor="end"  style="">2</text>
<text x="586.90" y="290.50" font-size="27.6" text-anchor="end"  style="">3</text>
<text x="594.00" y="422.70" font-size="27.6" text-anchor="middle"  style="">-50</text>
<text x="702.90" y="422.70" font-size="27.6" text-anchor="middle"  style="">0</text>
<text x="811.40" y="422.70" font-size="27.6" text-anchor="middle"  style="">50</text>
<text x="703.3" y="456.6" font-size="29.7" text-anchor="middle"><tspan font-style="italic">δ</tspan>(MHz)</text>
<g transform="translate(247.80 118.80)" stroke-width="0.15">
<text x="-1.0" y="0" font-size="24.8">Step <tspan x="53.10" textLength="47.60" lengthAdjust="spacing">(2-3)</tspan></text>
</g>
<g transform="translate(241.50 316.80)" stroke-width="0.15">
<text x="-1.0" y="0" font-size="24.8">Step <tspan x="52.60" textLength="48.10" lengthAdjust="spacing">(4-1)</tspan></text>
</g>
<g transform="translate(92.40 247.70) rotate(-90)" stroke-width="0.15">
<text x="-1.0" y="0" font-size="24.8">Step <tspan x="53.10" textLength="46.50" lengthAdjust="spacing">(3-4)</tspan></text>
</g>
<g transform="translate(511.50 238.50) rotate(-90)" stroke-width="0.15">
<text x="-1.0" y="0" font-size="24.8">Step <tspan x="53.10" textLength="49.50" lengthAdjust="spacing">(1-2)</tspan></text>
</g>
<g transform="translate(551.90 164.10) rotate(-90)">
<text x="0" y="0" font-size="30" font-style="italic" transform="scale(1.09 1)">n</text>
<rect x="2.0" y="-18.3" width="12" height="1.8" fill="#1a1a1a"/>
<text x="15.4" y="6.2" font-size="21.5" font-style="italic" textLength="21.0" lengthAdjust="spacingAndGlyphs">ss</text>
</g>
<g transform="translate(561.00 355.30) rotate(-90)">
<text x="0" y="0" font-size="30" font-style="italic" transform="scale(1.09 1)">n</text>
<rect x="2.0" y="-18.3" width="12" height="1.8" fill="#1a1a1a"/>
<text x="15.4" y="6.2" font-size="21.5" font-style="italic" textLength="22.0" lengthAdjust="spacingAndGlyphs">th</text>
</g>
</g>
</svg>
</body></html>
